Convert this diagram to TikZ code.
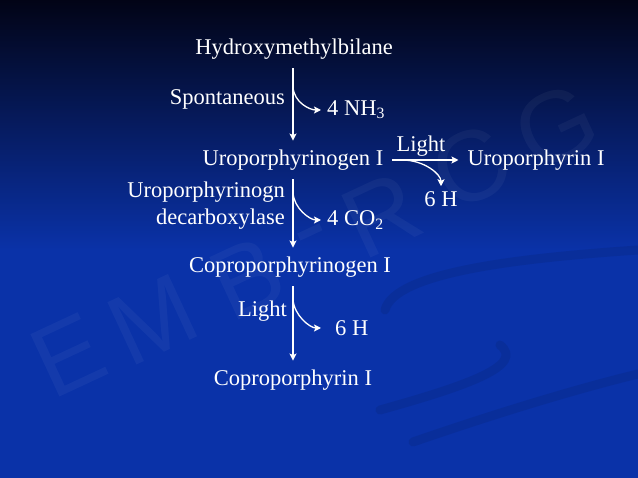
\documentclass[tikz,border=0pt]{standalone}
\usepackage{fontspec}
\setmainfont{Liberation Serif}
\newfontfamily\wmfont{Liberation Sans}
\usetikzlibrary{positioning, arrows.meta, calc}

\definecolor{slidetop}{RGB}{2,4,22}
\definecolor{slidemid}{RGB}{8,36,135}
\definecolor{slideblue}{RGB}{10,50,168}

\begin{document}
\begin{tikzpicture}[
    x=1pt, y=-1pt,
    compound/.style={text=white, font=\fontsize{22.5}{27}\selectfont, inner sep=3pt},
    side/.style={compound, align=right},
    line/.style={draw=white, line width=1.3pt, shorten <=6pt, shorten >=6pt, -{Stealth[length=7pt, width=7pt, inset=1.5pt]}},
    branch/.style={draw=white, line width=1.3pt, shorten >=3pt, -{Stealth[length=7pt, width=7pt, inset=1.5pt]}},
    wmletter/.style={text=white, text opacity=0.045, font=\wmfont\fontsize{100}{100}\selectfont, rotate=25},
    swoosh/.style={draw=black, draw opacity=0.08, line width=9pt, line cap=round}
]

% Background
\useasboundingbox (0,0) rectangle (638,478);
\shade[top color=slidetop, middle color=slidemid, bottom color=slideblue] (0,0) rectangle (638,250);
\fill[slideblue] (0,249) rectangle (638,478);
\path[swoosh] (385,310) .. controls (395,272) and (520,258) .. (638,250);
\path[swoosh] (380,410) .. controls (470,385) and (525,365) .. (500,345);
\path[swoosh] (413,442) .. controls (500,412) and (580,388) .. (638,374);

% Watermark
\foreach \ch/\px/\py in {E/68/355, M/153/320, B/247/278, -/315/243, R/382/215, C/471/167, G/556/127}
    \node[wmletter] at (\px,\py) {\ch};

% Main chain
\node[compound] (hmb) at (294,49) {Hydroxymethylbilane};
\node[compound] (urogen) at (293,160) {Uroporphyrinogen I};
\node[compound] (coprogen) at (290,267) {Coproporphyrinogen I};
\node[compound] (copro) at (293,380) {Coproporphyrin I};
\node[compound, right=78pt of urogen] (uro) {Uroporphyrin I};

% Conditions and side products
\node[side, anchor=east] (spont) at (288,99) {Spontaneous};
\node[compound, anchor=west] (nh3) at (324,110) {4 NH\textsubscript{3}};
\node[side, anchor=east] (enzyme) at (288,206) {Uroporphyrinogn\\decarboxylase};
\node[compound, anchor=west] (co2) at (324,220) {4 CO\textsubscript{2}};
\node[compound, anchor=east] (light2) at (290,311) {Light};
\node[compound, anchor=west] (h6b) at (332,328) {6 H};
\node[compound] (light1) at (421,146) {Light};
\node[compound] (h6a) at (441,199) {6 H};

% Connections
\path[line] (urogen.north |- hmb.south) -- (urogen.north);
\path[line] (urogen.south) -- (urogen.south |- coprogen.north);
\path[line] (copro.north |- coprogen.south) -- (copro.north);
\path[line] (urogen.east) -- (uro.west);

\coordinate (b1) at ($(urogen.north |- hmb.south)!0.29!(urogen.north)$);
\coordinate (b2) at ($(urogen.south)!0.24!(urogen.south |- coprogen.north)$);
\coordinate (b3) at ($(copro.north |- coprogen.south)!0.22!(copro.north)$);
\coordinate (b4) at ($(urogen.east)!0.2!(uro.west)$);

\path[branch] (b1) .. controls +(1,16) and +(-14,0) .. (nh3.west);
\path[branch] (b2) .. controls +(1,16) and +(-14,0) .. (co2.west);
\path[branch, shorten >=11pt] (b3) .. controls +(1,16) and +(-22,0) .. (h6b.west);
\path[branch, shorten >=2pt] (b4) .. controls +(22,0) and +(0,-14) .. (h6a.north);

\end{tikzpicture}
\end{document}
